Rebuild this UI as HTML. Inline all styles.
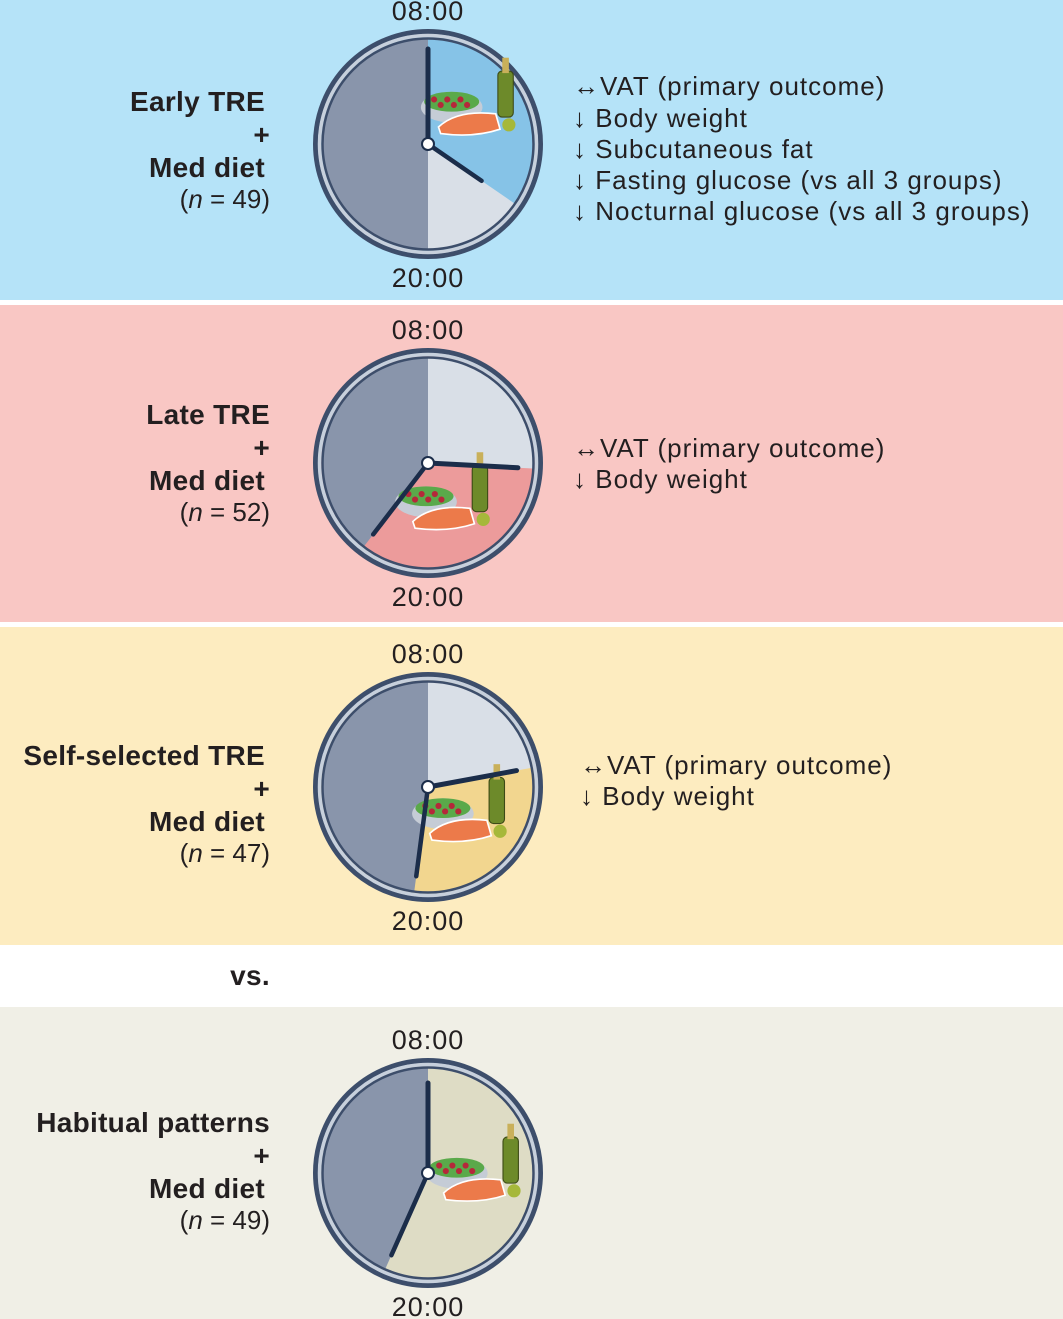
<!DOCTYPE html>
<html><head><meta charset="utf-8"><style>
body{margin:0;width:1063px;height:1319px;overflow:hidden;background:#fff}
svg{display:block}
text{font-family:"Liberation Sans",sans-serif;fill:#231f20}
.lab{font-size:28px;font-weight:bold;text-anchor:end;letter-spacing:0.3px}
.n{font-size:26px;text-anchor:end}
.res{font-size:26px;letter-spacing:1px}
.time{font-size:27px;text-anchor:middle;letter-spacing:1px}
</style></head><body>
<svg id="chart" width="1063" height="1319" viewBox="0 0 1063 1319" xmlns="http://www.w3.org/2000/svg">
<rect x="0" y="0" width="1063" height="300" fill="#b5e3f8"/>
<rect x="0" y="305" width="1063" height="317" fill="#f9c7c4"/>
<rect x="0" y="627" width="1063" height="318" fill="#fdecc0"/>
<rect x="0" y="1007" width="1063" height="312" fill="#f0efe6"/>
<text x="270" y="985" class="lab">vs.</text>

<g>
<text class="lab" x="265" y="111">Early TRE</text><text class="lab" x="270" y="144">+</text>
<text class="lab" x="265" y="177">Med diet</text><text class="n" x="270" y="208">(<tspan font-style="italic">n</tspan> = 49)</text></g>
<g>
<text class="lab" x="270" y="424">Late TRE</text><text class="lab" x="270" y="457">+</text>
<text class="lab" x="265" y="490">Med diet</text><text class="n" x="270" y="521">(<tspan font-style="italic">n</tspan> = 52)</text></g>
<g>
<text class="lab" x="265" y="765">Self-selected TRE</text><text class="lab" x="270" y="798">+</text>
<text class="lab" x="265" y="831">Med diet</text><text class="n" x="270" y="862">(<tspan font-style="italic">n</tspan> = 47)</text></g>
<g>
<text class="lab" x="270" y="1132">Habitual patterns</text><text class="lab" x="270" y="1165">+</text>
<text class="lab" x="265" y="1198">Med diet</text><text class="n" x="270" y="1229">(<tspan font-style="italic">n</tspan> = 49)</text></g>

<g>
<text class="res" x="573" y="95">↔VAT (primary outcome)</text>
<text class="res" x="573" y="127">↓ Body weight</text>
<text class="res" x="573" y="158">↓ Subcutaneous fat</text>
<text class="res" x="573" y="189">↓ Fasting glucose (vs all 3 groups)</text>
<text class="res" x="573" y="220">↓ Nocturnal glucose (vs all 3 groups)</text></g>
<g>
<text class="res" x="573" y="457">↔VAT (primary outcome)</text>
<text class="res" x="573" y="488">↓ Body weight</text></g>
<g>
<text class="res" x="580" y="774">↔VAT (primary outcome)</text>
<text class="res" x="580" y="805">↓ Body weight</text></g>
<g id="clocks"></g>
</svg>
<script>
const groups = ["Early TRE","Late TRE","Self-selected TRE","Habitual"];
const windowStart = [8, 14.2, 13.3, 8];
const windowEnd = [16.3, 22.5, 20.5, 21.6];
const eatColors = ["#86c3e7","#ec9b9b","#f2d68f","#dedcc5"];
const centersY = [144, 463, 787, 1173];
const CX = 428, R = 105;
const NS = "http://www.w3.org/2000/svg";
function ang(h){ return ((h - 8) * 15) * Math.PI / 180; }
function pt(h, r, cy){ const a = ang(h); return [CX + r*Math.sin(a), cy - r*Math.cos(a)]; }
function sector(h0, h1, cy, r){
  const [x0,y0] = pt(h0,r,cy), [x1,y1] = pt(h1,r,cy);
  const large = ((h1-h0+24)%24)*15 > 180 ? 1 : 0;
  return `M${CX},${cy} L${x0},${y0} A${r},${r} 0 ${large} 1 ${x1},${y1} Z`;
}
function mk(tag, attrs, parent){ const e = document.createElementNS(NS, tag); for (const k in attrs) e.setAttribute(k, attrs[k]); parent.appendChild(e); return e; }
const root = document.getElementById('clocks');
groups.forEach((g, i) => {
  const cy = centersY[i];
  const c = mk('g', {}, root);
  
  
  mk('circle', {cx:CX, cy:cy, r:R, fill:'#d9dfe7'}, c);
  const night = mk('path', {d: sector(20, 32, cy, R), fill:'#8995ab'}, c);
  
  
  const eat = mk('path', {d: sector(windowStart[i], windowEnd[i], cy, R), fill: eatColors[i]}, c);
  
  
  mk('circle', {cx:CX, cy:cy, r:112.5, fill:'none', stroke:'#3d4e6b', 'stroke-width':5}, c);
  mk('circle', {cx:CX, cy:cy, r:108.5, fill:'none', stroke:'#c7d0dc', 'stroke-width':3.5}, c);
  mk('circle', {cx:CX, cy:cy, r:105.5, fill:'none', stroke:'#3d4e6b', 'stroke-width':2.5}, c);
  // food
  const [fx, fy] = pt((windowStart[i]+windowEnd[i])/2, 55, cy);
  const f = mk('g', {transform:`translate(${fx-25},${fy+2}) scale(1.1)`}, c);
  
  
  mk('rect', {x:42, y:-45, width:14, height:42, rx:4, fill:'#6d8a2a', stroke:'#3d4a16', 'stroke-width':1}, f);
  mk('rect', {x:46, y:-57, width:6, height:14, fill:'#c9b05a'}, f);
  mk('ellipse', {cx:0, cy:-12, rx:28, ry:14, fill:'#c5ccd6'}, f);
  mk('ellipse', {cx:0, cy:-17, rx:25, ry:9, fill:'#5aa94a'}, f);
  for (let k=0;k<6;k++) mk('circle', {cx:-16+k*6, cy:-17+(k%2?3:-2), r:2.8, fill:'#b5283a'}, f);
  mk('path', {d:'M-12,6 Q5,-10 40,-6 L44,8 Q20,16 -10,12 Z', fill:'#ec7a4a', stroke:'#fff', 'stroke-width':1.5}, f);
  mk('circle', {cx:52, cy:4, r:6, fill:'#a6b83a'}, f);
  // hands
  const [hx, hy] = pt(windowStart[i], i===0 ? 95 : 90, cy);
  const [mx, my] = pt(windowEnd[i], i===0 ? 65 : 90, cy);
  const h1 = mk('line', {x1:CX, y1:cy, x2:hx, y2:hy, stroke:'#1b2d4a', 'stroke-width':5, 'stroke-linecap':'round'}, c);
  
  
  const h2 = mk('line', {x1:CX, y1:cy, x2:mx, y2:my, stroke:'#1b2d4a', 'stroke-width':4.5, 'stroke-linecap':'round'}, c);
  
  
  mk('circle', {cx:CX, cy:cy, r:6, fill:'#fff', stroke:'#1b2d4a', 'stroke-width':2}, c);
  const t1 = mk('text', {x:CX, y:cy-124, class:'time'}, c);
  t1.textContent = '08:00';
  
  
  const t2 = mk('text', {x:CX, y:cy+143, class:'time'}, c);
  t2.textContent = '20:00';
  
  
});
</script>
</body></html>
